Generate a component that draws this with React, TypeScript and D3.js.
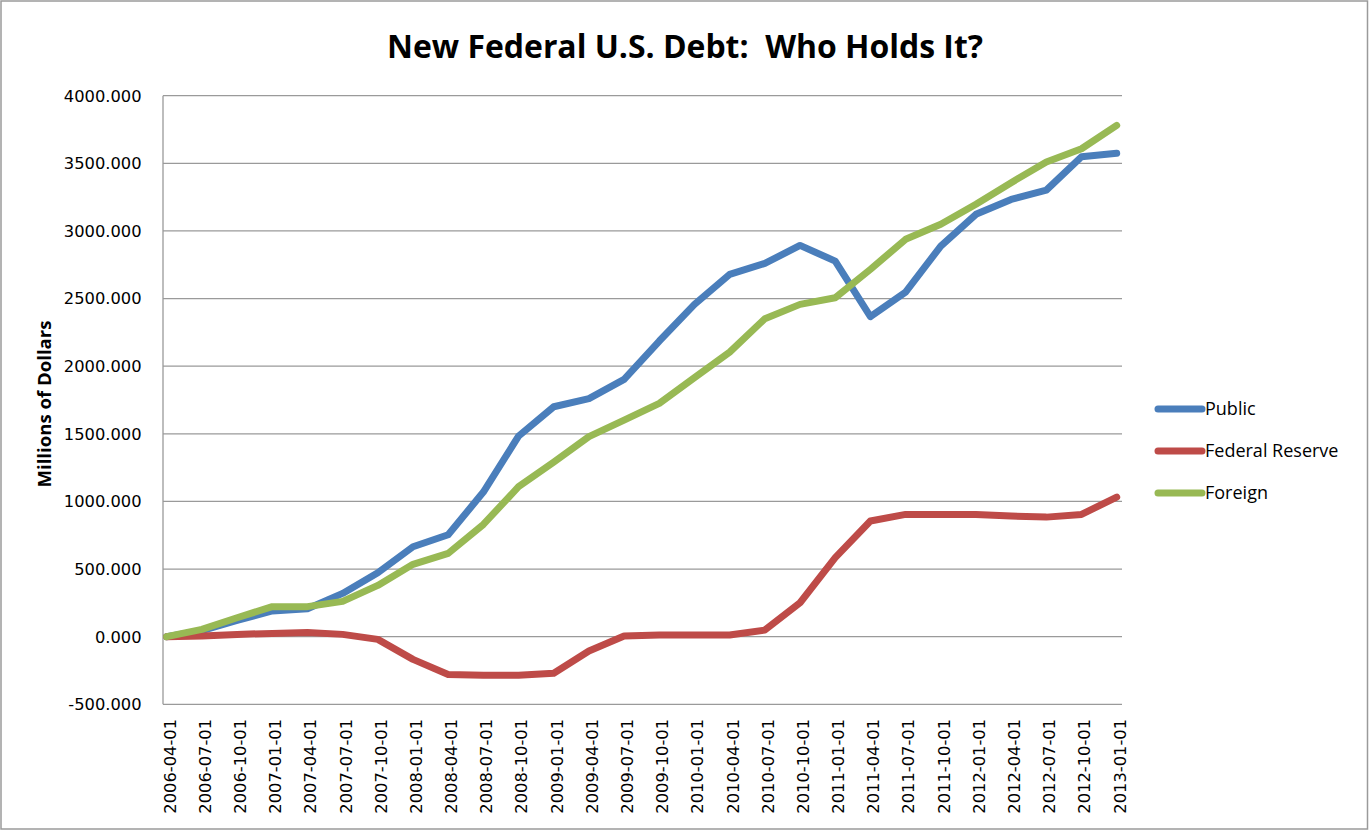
import React from "react";
import * as d3 from "d3";

const categories = [
  "2006-04-01","2006-07-01","2006-10-01","2007-01-01","2007-04-01","2007-07-01","2007-10-01",
  "2008-01-01","2008-04-01","2008-07-01","2008-10-01","2009-01-01","2009-04-01","2009-07-01",
  "2009-10-01","2010-01-01","2010-04-01","2010-07-01","2010-10-01","2011-01-01","2011-04-01",
  "2011-07-01","2011-10-01","2012-01-01","2012-04-01","2012-07-01","2012-10-01","2013-01-01",
];

const publicDebt = [
  0, 45, 120, 190, 207, 320, 473, 665, 754, 1069, 1483, 1700, 1760, 1902,
  2186, 2457, 2679, 2760, 2893, 2777, 2366, 2548, 2888, 3123, 3233, 3302, 3549, 3574,
];
const federalReserve = [
  0, 5, 17, 24, 30, 17, -20, -168, -279, -286, -286, -271, -106, 5,
  12, 12, 12, 49, 251, 584, 855, 904, 904, 904, 892, 884, 904, 1032,
];
const foreign = [
  0, 54, 140, 222, 222, 261, 379, 535, 616, 830, 1109, 1290, 1479, 1601,
  1725, 1915, 2104, 2351, 2457, 2506, 2716, 2938, 3049, 3197, 3357, 3510, 3608, 3781,
];

const yTicks = [-500, 0, 500, 1000, 1500, 2000, 2500, 3000, 3500, 4000];

const seriesNames = ["Public", "Federal Reserve", "Foreign"];
const seriesColors = ["#4A7EBB", "#BE4B48", "#98B954"];
const seriesValues = [publicDebt, federalReserve, foreign];

export default function App() {
  const W = 1370;
  const H = 831;
  const plotLeft = 163;
  const plotRight = 1122;
  const plotTop = 95.7;
  const plotBottom = 704.3;

  const x = d3.scalePoint<string>().domain(categories).range([166.7, 1116.7]);
  const y = d3.scaleLinear().domain([-500, 4000]).range([plotBottom, plotTop]);

  const line = d3
    .line<number>()
    .x((_, i) => x(categories[i]) as number)
    .y((d) => y(d));

  const tickFont = "'DejaVu Sans', Verdana, sans-serif";
  const sansFont = "'Open Sans', 'Noto Sans', sans-serif";

  return (
    <svg
      width={W}
      height={H}
      style={{ position: "absolute", left: 0, top: 0, background: "#fff" }}
    >
      <rect x={1} y={1} width={1366.5} height={828} fill="#fff" stroke="#9a9a9a" strokeWidth={1.5} />

      <text
        x={685}
        y={58}
        textAnchor="middle"
        fontFamily={sansFont}
        fontWeight="bold"
        fontSize={33}
        textLength={596}
        lengthAdjust="spacingAndGlyphs"
        fill="#000"
        style={{ whiteSpace: "pre" }}
      >
        New Federal U.S. Debt:  Who Holds It?
      </text>

      {yTicks.map((t) => (
        <g key={t}>
          <line
            x1={plotLeft}
            x2={plotRight}
            y1={y(t)}
            y2={y(t)}
            stroke="#9a9a9a"
            strokeWidth={1.3}
          />
          <text
            x={141.5}
            y={y(t)}
            dy="0.36em"
            textAnchor="end"
            fontFamily={tickFont}
            fontSize={16.3}
            fill="#000"
          >
            {d3.format(".3f")(t).replace("−", "-")}
          </text>
        </g>
      ))}

      <line x1={plotLeft} x2={plotLeft} y1={plotTop} y2={plotBottom} stroke="#9a9a9a" strokeWidth={1.3} />

      {categories.map((c) => (
        <text
          key={c}
          transform={`translate(${(x(c) as number) + 3},719) rotate(-90)`}
          textAnchor="end"
          dy="0.36em"
          fontFamily={tickFont}
          fontSize={16.3}
          fill="#000"
        >
          {c}
        </text>
      ))}

      <text
        transform="translate(51,404) rotate(-90)"
        textAnchor="middle"
        fontFamily={sansFont}
        fontWeight="bold"
        fontSize={17.5}
        textLength={167}
        lengthAdjust="spacingAndGlyphs"
        fill="#000"
      >
        Millions of Dollars
      </text>

      {seriesValues.map((vals, i) => (
        <path
          key={seriesNames[i]}
          d={line(vals) as string}
          fill="none"
          stroke={seriesColors[i]}
          strokeWidth={7}
          strokeLinejoin="round"
          strokeLinecap="round"
        />
      ))}

      {seriesNames.map((n, i) => {
        const ly = 409 + i * 42;
        return (
          <g key={n}>
            <line
              x1={1158}
              x2={1202}
              y1={ly}
              y2={ly}
              stroke={seriesColors[i]}
              strokeWidth={7}
              strokeLinecap="round"
            />
            <text
              x={1205}
              y={ly}
              dy="0.36em"
              fontFamily={sansFont}
              fontSize={18}
              fill="#000"
            >
              {n}
            </text>
          </g>
        );
      })}
    </svg>
  );
}
